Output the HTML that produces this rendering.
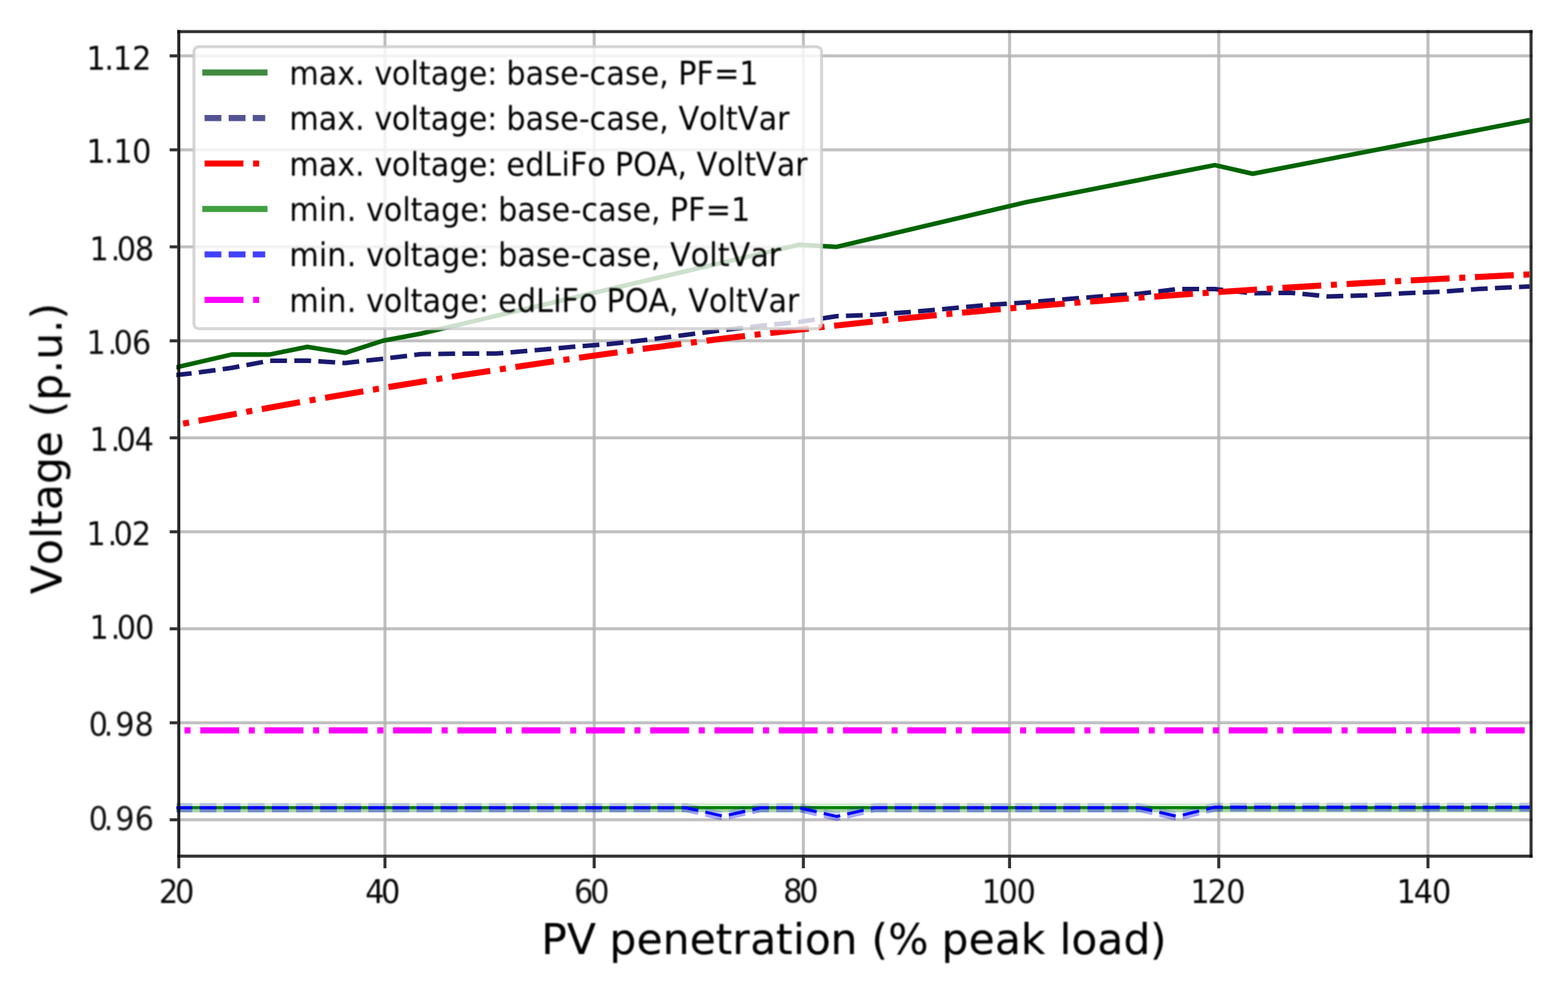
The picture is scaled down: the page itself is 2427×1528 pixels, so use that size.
<!DOCTYPE html>
<html lang="en"><head><meta charset="utf-8"><title>Voltage vs PV penetration</title>
<style>
html,body{margin:0;padding:0;background:#fff;}
body{width:2427px;height:1528px;overflow:hidden;}
svg{display:block;}
text{font-family:"DejaVu Sans","Liberation Sans",sans-serif;fill:#000;fill-opacity:1;font-kerning:none;text-rendering:geometricPrecision;white-space:pre;}
.t10{font-size:10px;}.t14{font-size:14px;}
</style></head><body>
<svg width="2427" height="1528" viewBox="0 0 2427 1528">
<rect width="2427" height="1528" fill="#fff"/>
<defs><clipPath id="ax"><rect x="58.7" y="10" width="446.33" height="272"/></clipPath>
<filter id="bt" x="-5%" y="-50%" width="110%" height="200%"><feGaussianBlur stdDeviation="0.26"/></filter>
</defs>
<g transform="matrix(4.693 0 0 4.693 -2.49 -0.33)">
<g fill="#b0b0b0" fill-opacity="0.8">
<rect x="59" y="10" width="1" height="273"/>
<rect x="127" y="10" width="1" height="273"/>
<rect x="196" y="10" width="1" height="273"/>
<rect x="265" y="10" width="1" height="273"/>
<rect x="333" y="10" width="1" height="273"/>
<rect x="402" y="10" width="1" height="273"/>
<rect x="471" y="10" width="1" height="273"/>
<rect x="59" y="18" width="447" height="1"/>
<rect x="59" y="49" width="447" height="1"/>
<rect x="59" y="81" width="447" height="1"/>
<rect x="59" y="112" width="447" height="1"/>
<rect x="59" y="144" width="447" height="1"/>
<rect x="59" y="175" width="447" height="1"/>
<rect x="59" y="207" width="447" height="1"/>
<rect x="59" y="238" width="447" height="1"/>
<rect x="59" y="270" width="447" height="1"/>
</g>
<g clip-path="url(#ax)"><g fill="none" stroke-linejoin="round">
<path d="M52.00 122.78L64.47 119.91L76.95 117.03L89.42 117.03L101.89 114.50L114.36 116.48L126.83 112.47L139.31 110.13L264.02 80.79L276.49 81.51L338.85 66.79L401.21 54.53L413.68 57.39L513.46 38.06" stroke="#006400" stroke-width="1.5"/>
<path d="M52.00 124.51L64.47 123.13L76.95 121.42L89.42 119.08L101.89 119.03L114.36 119.82L126.83 118.44L139.31 116.90L151.78 116.73L164.25 116.69L176.72 115.63L189.19 114.50L201.66 113.54L214.14 112.15L226.61 110.55L239.08 108.96L251.55 107.53L264.02 106.29L276.49 104.37L288.97 103.88L301.44 102.93L313.91 101.84L326.38 100.65L338.85 99.86L351.33 98.83L363.80 97.83L376.27 96.98L388.74 95.43L401.21 95.43L413.68 96.81L426.16 96.64L438.63 97.88L451.10 97.51L463.57 96.81L476.04 96.28L488.51 95.38L500.99 94.74L513.46 94.25" stroke="#191970" stroke-width="1.5" stroke-dasharray="5.55 2.4" stroke-dashoffset="1.7"/>
<path d="M52.00 141.52L64.47 139.14L76.95 136.82L89.42 134.55L101.89 132.33L114.36 130.16L126.83 128.06L139.31 126.01L151.78 124.02L164.25 122.09L176.72 120.22L189.19 118.41L201.66 116.66L214.14 114.97L226.61 113.34L239.08 111.77L251.55 110.26L264.02 108.81L276.49 107.42L288.97 106.09L301.44 104.82L313.91 103.60L326.38 102.43L338.85 101.32L351.33 100.26L363.80 99.25L376.27 98.29L388.74 97.37L401.21 96.50L413.68 95.67L426.16 94.88L438.63 94.12L451.10 93.40L463.57 92.71L476.04 92.04L488.51 91.40L500.99 90.79L513.46 90.19" stroke="#f00" stroke-width="2" stroke-dasharray="12.8 3.2 2 3.2" stroke-dashoffset="6.92"/>
<path d="M52.00 265.50L513.46 265.50" stroke="#008000" stroke-width="1" stroke-opacity="0.16"/>
<path d="M52.00 266.50L513.46 266.50" stroke="#008000" stroke-width="1" stroke-opacity="1"/>
<path d="M52.00 267.50L513.46 267.50" stroke="#008000" stroke-width="1" stroke-opacity="0.34"/>
<path d="M52.00 265.50L226.61 265.50L239.08 268.31L251.55 265.50L264.02 265.50L276.49 268.42L288.97 265.50L376.27 265.50L388.74 268.38L401.21 265.33L513.46 265.33" stroke="#00f" stroke-width="1" stroke-opacity="0.16" stroke-dasharray="5.55 2.4" stroke-dashoffset="1.53"/>
<path d="M52.00 266.50L226.61 266.50L239.08 269.31L251.55 266.50L264.02 266.50L276.49 269.42L288.97 266.50L376.27 266.50L388.74 269.38L401.21 266.33L513.46 266.33" stroke="#00f" stroke-width="1" stroke-opacity="1" stroke-dasharray="5.55 2.4" stroke-dashoffset="1.53"/>
<path d="M52.00 267.50L226.61 267.50L239.08 270.31L251.55 267.50L264.02 267.50L276.49 270.42L288.97 267.50L376.27 267.50L388.74 270.38L401.21 267.33L513.46 267.33" stroke="#00f" stroke-width="1" stroke-opacity="0.34" stroke-dasharray="5.55 2.4" stroke-dashoffset="1.53"/>
<path d="M52.00 241.00L513.46 241.00" stroke="#f0f" stroke-width="2" stroke-dasharray="12.8 3.2 2 3.2" stroke-dashoffset="6.62"/>
</g></g>
<g fill="#000" fill-opacity="0.8">
<rect x="59" y="283" width="1" height="3.5"/>
<rect x="127" y="283" width="1" height="3.5"/>
<rect x="196" y="283" width="1" height="3.5"/>
<rect x="265" y="283" width="1" height="3.5"/>
<rect x="333" y="283" width="1" height="3.5"/>
<rect x="402" y="283" width="1" height="3.5"/>
<rect x="471" y="283" width="1" height="3.5"/>
<rect x="56.5" y="18" width="2.5" height="1"/>
<rect x="56.5" y="49" width="2.5" height="1"/>
<rect x="56.5" y="81" width="2.5" height="1"/>
<rect x="56.5" y="112" width="2.5" height="1"/>
<rect x="56.5" y="144" width="2.5" height="1"/>
<rect x="56.5" y="175" width="2.5" height="1"/>
<rect x="56.5" y="207" width="2.5" height="1"/>
<rect x="56.5" y="238" width="2.5" height="1"/>
<rect x="56.5" y="270" width="2.5" height="1"/>
<rect x="59" y="10" width="1" height="273"/>
<rect x="505" y="10" width="1" height="273"/>
<rect x="59" y="10" width="447" height="1"/>
<rect x="59" y="282" width="447" height="1"/>
</g>
<rect x="64.5" y="15.5" width="207" height="93" rx="1.6" fill="#fff" fill-opacity="0.8" stroke="#ccc" stroke-opacity="0.8" stroke-width="1"/>
<path d="M67.25 24 H88.75" stroke="#006400" stroke-width="2" stroke-opacity="0.75" fill="none"/>
<path d="M68 39 H88" stroke="#191970" stroke-width="2" stroke-opacity="0.75" stroke-dasharray="5.55 2.4" fill="none"/>
<path d="M68 54 H88" stroke="#f00" stroke-width="2" stroke-dasharray="12.8 3.2 2 3.2" fill="none"/>
<path d="M67.25 69 H88.75" stroke="#008000" stroke-width="2" stroke-opacity="0.75" fill="none"/>
<path d="M68 84 H88" stroke="#00f" stroke-width="2" stroke-opacity="0.75" stroke-dasharray="5.55 2.4" fill="none"/>
<path d="M68 99 H88" stroke="#f0f" stroke-width="2" stroke-dasharray="12.8 3.2 2 3.2" fill="none"/>
<text class="t10" x="0.18 6.09 8.91 15.23" transform="translate(28.88 23.01) scale(1 1.08)" opacity="0.967" filter="url(#bt)">1.12</text>
<text class="t10" x="0.18 6.08 9.05 15.26" transform="translate(28.88 53.87) scale(1 1.08)" opacity="0.9668" filter="url(#bt)">1.10</text>
<text class="t10" x="0.18 7.15 9.17 15.12" transform="translate(29.88 85.85) scale(1 1.08)" opacity="0.9589" filter="url(#bt)">1.08</text>
<text class="t10" x="0.18 7.15 9.12 15.16" transform="translate(28.88 116.86) scale(1 1.08)" opacity="0.9396" filter="url(#bt)">1.06</text>
<text class="t10" x="0.19 7.15 9.08 15.07" transform="translate(29.88 148.87) scale(1 1.08)" opacity="0.9699" filter="url(#bt)">1.04</text>
<text class="t10" x="0.18 7.15 9.08 15.1" transform="translate(28.88 179.85) scale(1 1.08)" opacity="0.9581" filter="url(#bt)">1.02</text>
<text class="t10" x="0.18 7.15 9.2 15.18" transform="translate(29.88 210.89) scale(1 1.08)" opacity="0.9565" filter="url(#bt)">1.00</text>
<text class="t10" x="0.43 5.35 9.18 15.53" transform="translate(29.38 242.84) scale(1 1.08)" opacity="0.9368" filter="url(#bt)">0.98</text>
<text class="t10" x="0.43 5.35 9.18 15.58" transform="translate(29.38 273.84) scale(1 1.08)" opacity="0.9187" filter="url(#bt)">0.96</text>
<text class="t10" x="0.69 6.03" transform="translate(52.25 297.99) scale(1 1.08)" opacity="0.958" filter="url(#bt)">20</text>
<text class="t10" x="0.42 5.65" transform="translate(120.56 297.9) scale(1 1.08)" opacity="0.9778" filter="url(#bt)">40</text>
<text class="t10" x="0.64 5.94" transform="translate(189.25 297.99) scale(1 1.08)" opacity="0.9324" filter="url(#bt)">60</text>
<text class="t10" x="0.49 5.73" transform="translate(258.38 297.84) scale(1 1.08)" opacity="0.96" filter="url(#bt)">80</text>
<text class="t10" x="0.42 5.98 11.95" transform="translate(323.88 297.92) scale(1 1.08)" opacity="0.966" filter="url(#bt)">100</text>
<text class="t10" x="0.27 5.96 12.09" transform="translate(392.88 297.95) scale(1 1.08)" opacity="0.9683" filter="url(#bt)">120</text>
<text class="t10" x="0.28 5.91 11.96" transform="translate(460.88 297.89) scale(1 1.08)" opacity="0.9836" filter="url(#bt)">140</text>
<text class="t10" x="-0.08 9.66 15.76 21.6 24.88 28.01 33.78 39.95 42.69 46.6 52.79 59.13 65.19 68.5 71.53 77.89 84.06 89.26 95.46 98.99 104.54 110.62 115.84 121.94 125.12 128.21 134.23 140.02 148.39" transform="translate(96 27.93) scale(1 1.08)" opacity="0.9844" filter="url(#bt)">max. voltage: base-case, PF=1</text>
<text class="t10" x="-0.08 9.66 15.76 21.6 24.88 28.01 33.78 39.95 42.69 46.6 52.79 59.13 65.19 68.5 71.53 77.89 84.06 89.26 95.46 98.99 104.54 110.62 115.84 121.94 125.12 128.33 135.12 141.2 143.95 147.82 154.73 160.84" transform="translate(96 42.98) scale(1 1.08)" filter="url(#bt)">max. voltage: base-case, VoltVar</text>
<text class="t10" x="-0.08 9.66 15.76 21.6 24.88 28.01 33.78 39.95 42.69 46.6 52.79 59.13 65.19 68.5 71.55 77.76 84.08 89.7 92.51 98.23 104.25 107.33 113.37 121.17 127.93 131.12 134.32 141.11 147.18 149.99 153.81 160.73 166.81" transform="translate(96 58.01) scale(1 1.08)" opacity="0.9935" filter="url(#bt)">max. voltage: edLiFo POA, VoltVar</text>
<text class="t10" x="-0.08 9.69 12.47 18.91 22.12 25.29 31.08 37.21 39.97 43.89 50.01 56.35 62.44 65.75 68.83 75.17 81.3 86.44 92.72 96.24 101.8 107.94 113.13 119.21 122.38 125.47 131.48 137.26 145.63" transform="translate(96 73.04) scale(1 1.08)" opacity="0.9848" filter="url(#bt)">min. voltage: base-case, PF=1</text>
<text class="t10" x="-0.08 9.69 12.47 18.91 22.12 25.29 31.08 37.21 39.97 43.89 50.01 56.35 62.44 65.75 68.83 75.17 81.3 86.44 92.72 96.24 101.8 107.94 113.13 119.21 122.38 125.54 132.32 138.47 141.25 145.16 152.04 158.06" transform="translate(96 87.93) scale(1 1.08)" filter="url(#bt)">min. voltage: base-case, VoltVar</text>
<text class="t10" x="-0.08 9.69 12.47 18.91 22.12 25.29 31.08 37.21 39.97 43.89 50.01 56.35 62.44 65.75 68.82 75.03 81.35 86.97 89.71 95.44 101.5 104.58 110.6 118.42 125.18 128.38 131.53 138.32 144.47 147.25 151.15 158.03 164.06" transform="translate(96 102.96) scale(1 1.08)" opacity="0.9934" filter="url(#bt)">min. voltage: edLiFo POA, VoltVar</text>
<text class="t14" x="0.05 8.52 18.12 22.56 31.48 40.08 48.99 57.6 63.08 68.98 77.47 83.1 86.97 95.47 104.38 108.93 114.49 127.62 132.05 140.99 149.67 158.23 166.38 171 174.87 183.46 192.09 200.81" transform="translate(179 314.88) scale(1 1)" stroke="#000" stroke-width="0.0337" stroke-linejoin="round" filter="url(#bt)">PV penetration (% peak load)</text>
<text class="t14" x="-0.07 9.53 18.19 22.07 27.66 36.29 45.09 53.73 58.27 63.69 72.71 77.22 86.11 90.57" transform="translate(20.85 196) rotate(-90) scale(1 1)" stroke="#000" stroke-width="0.0307" stroke-linejoin="round" filter="url(#bt)">Voltage (p.u.)</text>
</g>
</svg>
</body></html>
